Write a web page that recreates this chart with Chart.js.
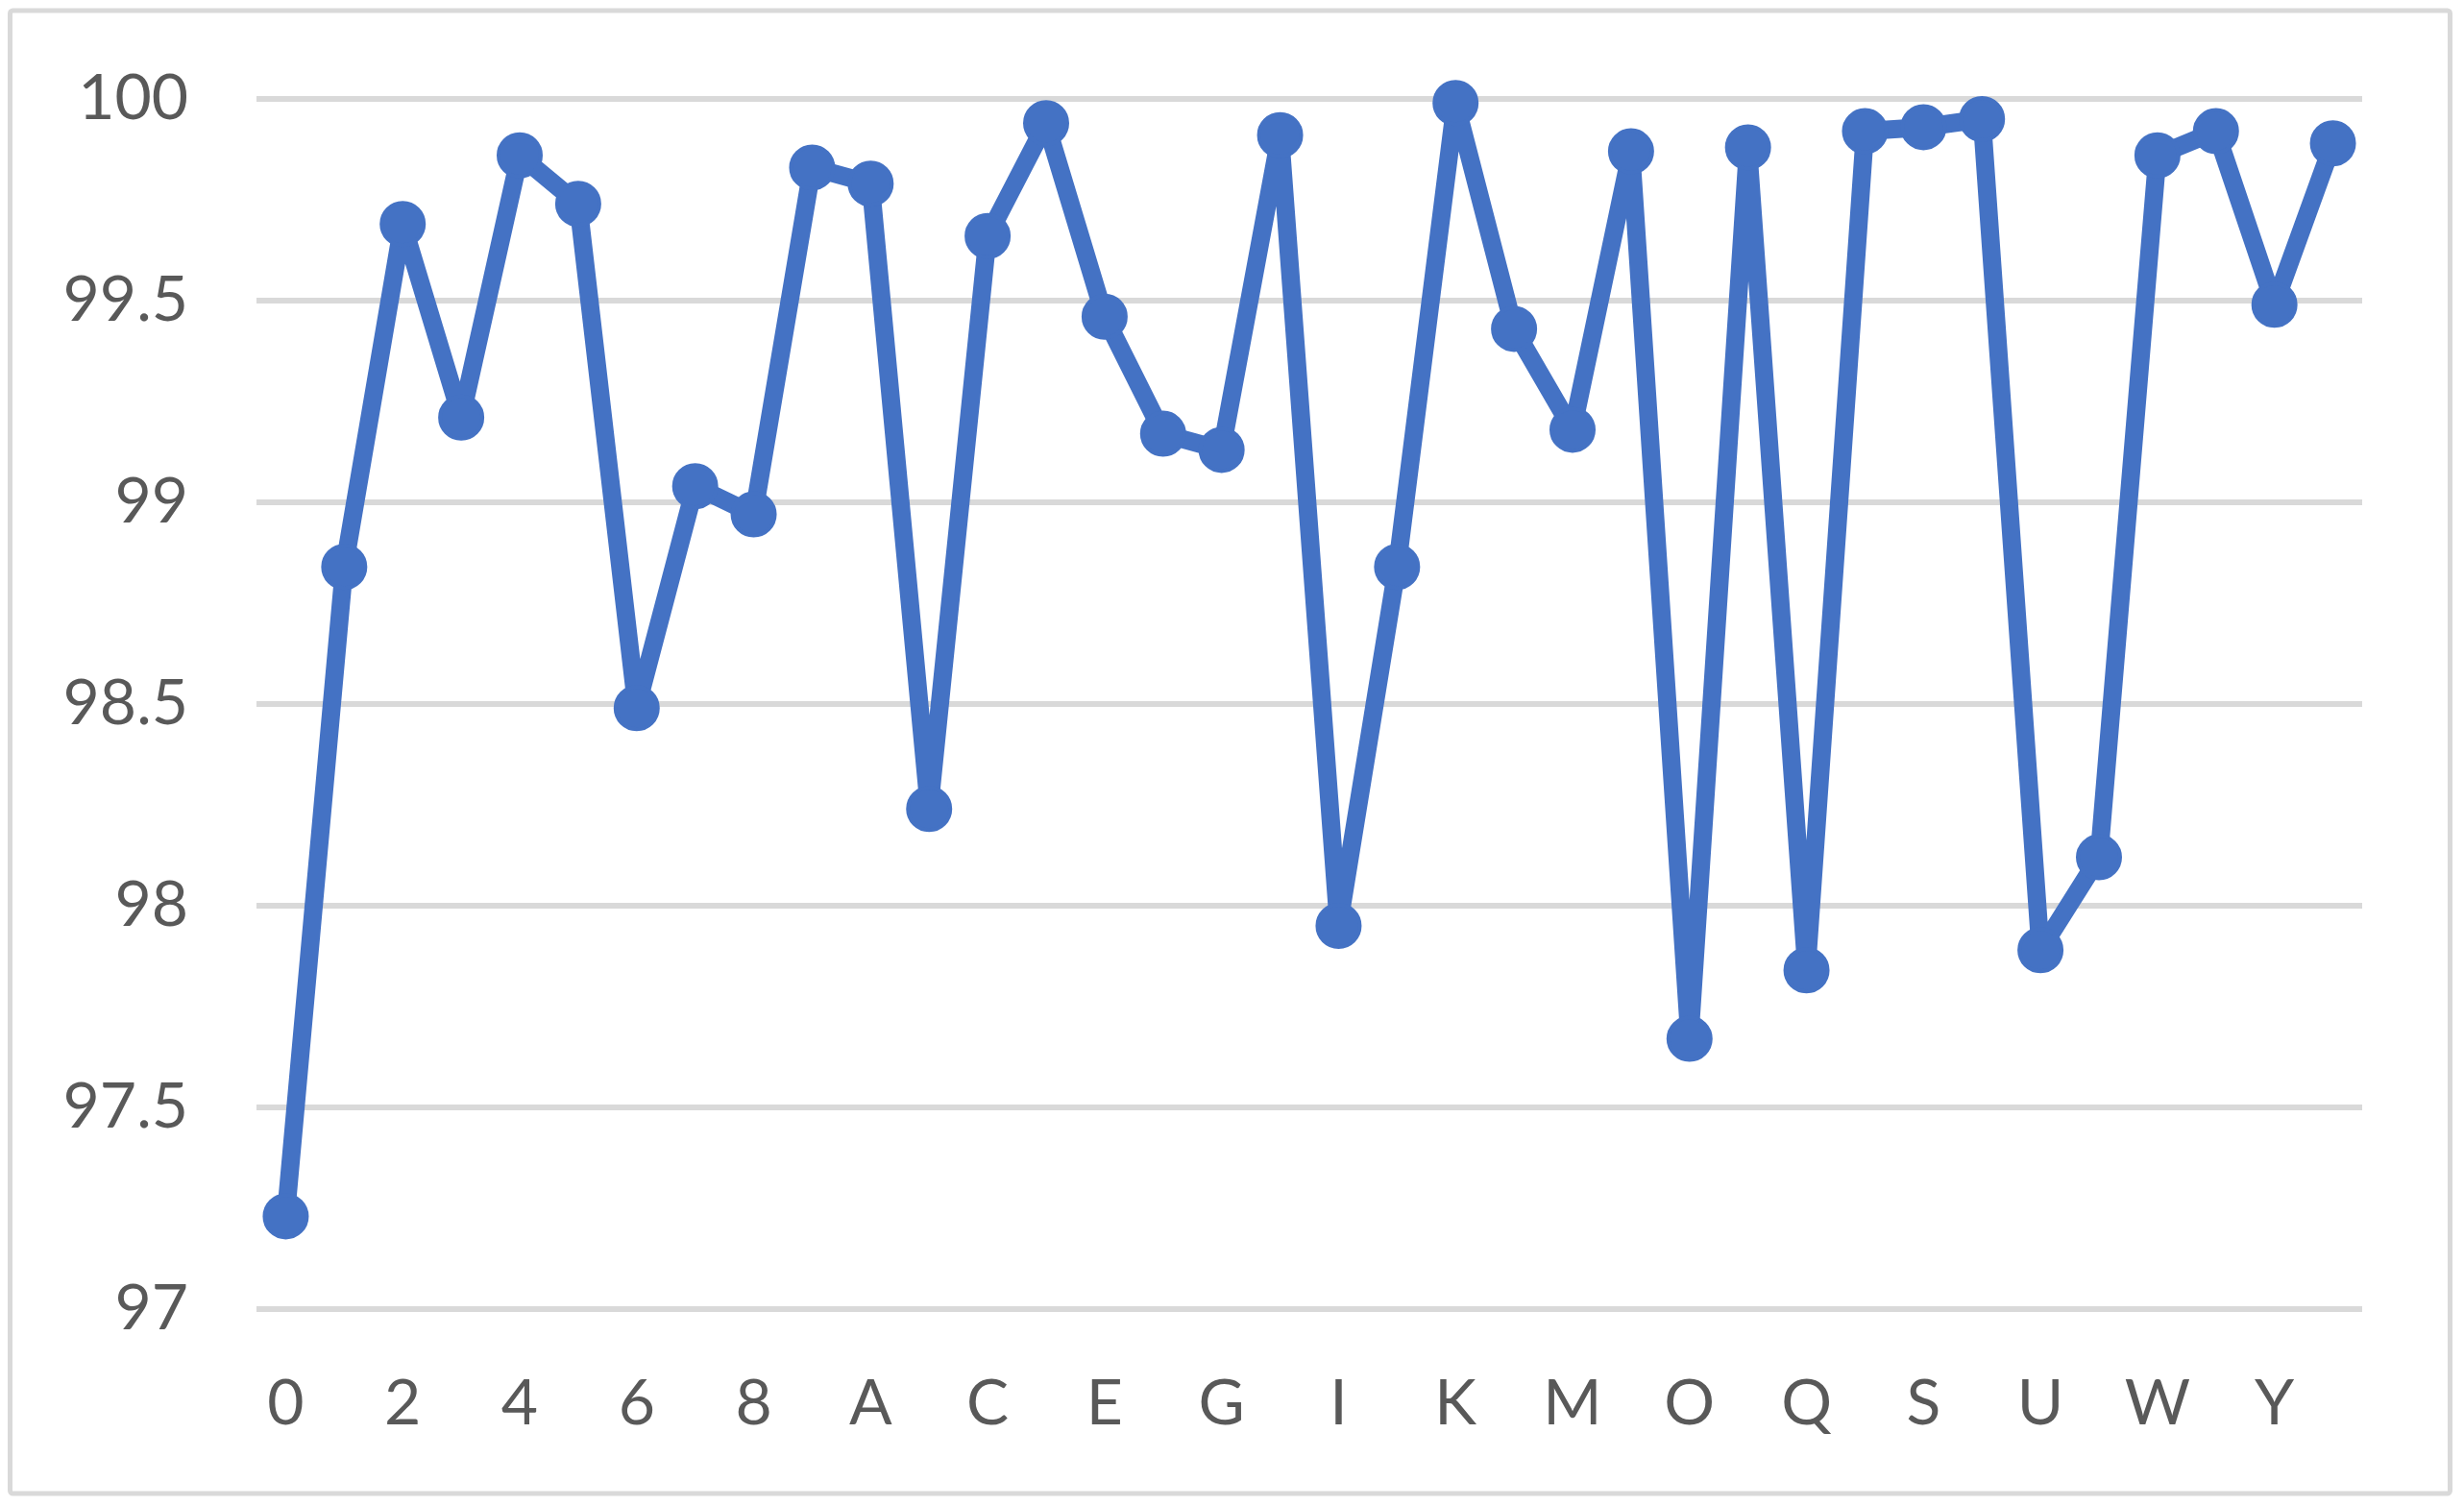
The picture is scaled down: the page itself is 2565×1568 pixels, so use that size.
<!DOCTYPE html>
<html>
<head>
<meta charset="utf-8">
<script src="https://cdn.jsdelivr.net/npm/chart.js@4/dist/chart.umd.min.js"></script>
<style>
  html, body { margin: 0; padding: 0; background: #ffffff; }
  #wrap { width: 2565px; height: 1568px; position: relative; }
</style>
</head>
<body>
<div id="wrap"><canvas id="c"></canvas></div>
<script>
const categories = ['0','1','2','3','4','5','6','7','8','9',
  'A','B','C','D','E','F','G','H','I','J','K','L','M','N','O','P','Q','R','S','T','U','V','W','X','Y','Z'];
const seriesValues = [97.23, 98.84, 99.69, 99.21, 99.86, 99.74, 98.49, 99.04, 98.97, 99.83,
  99.79, 98.24, 99.66, 99.94, 99.46, 99.17, 99.13, 99.91, 97.95, 98.84,
  99.99, 99.43, 99.18, 99.87, 97.67, 99.88, 97.84, 99.92, 99.93, 99.95,
  97.89, 98.12, 99.86, 99.92, 99.49, 99.89];
const yMin = 97, yMax = 100, yStep = 0.5;

const FONT = 'Lato, "Open Sans", sans-serif';
const TEXT = '#595959';
const GRID = '#d9d9d9';
const BLUE = '#4472C4';

const frame = {
  id: 'frame',
  beforeDraw(chart) {
    const ctx = chart.ctx;
    ctx.save();
    ctx.fillStyle = '#ffffff';
    ctx.fillRect(0, 0, chart.width, chart.height);
    ctx.strokeStyle = GRID;
    ctx.lineWidth = 5;
    ctx.beginPath();
    if (ctx.roundRect) ctx.roundRect(10.5, 11, 2540, 1544, 3); else ctx.rect(10.5, 11, 2540, 1544);
    ctx.stroke();
    ctx.restore();
  }
};

new Chart(document.getElementById('c'), {
  type: 'line',
  data: {
    labels: categories,
    datasets: [{
      data: seriesValues,
      borderColor: BLUE,
      backgroundColor: BLUE,
      borderWidth: 19,
      borderJoinStyle: 'round',
      borderCapStyle: 'round',
      pointRadius: 22,
      pointBorderWidth: 4,
      pointBackgroundColor: BLUE,
      pointBorderColor: BLUE,
      tension: 0,
      clip: false
    }]
  },
  options: {
    responsive: true,
    maintainAspectRatio: false,
    animation: false,
    devicePixelRatio: 1,
    layout: { padding: { top: 103, left: 0, right: 106, bottom: 0 } },
    plugins: { legend: { display: false }, tooltip: { enabled: false } },
    scales: {
      x: {
        type: 'category',
        offset: true,
        grid: { display: false, drawTicks: false },
        border: { display: false },
        ticks: {
          autoSkip: false,
          maxRotation: 0,
          minRotation: 0,
          padding: 59,
          color: TEXT,
          font: { family: FONT, size: 66 },
          callback: (v, i) => (i % 2 === 0 ? categories[i] : '')
        },
        afterFit: (s) => { s.height = 205; }
      },
      y: {
        min: yMin,
        max: yMax,
        grid: { color: GRID, lineWidth: 6, drawTicks: true, tickLength: 71, tickColor: 'rgba(0,0,0,0)', tickWidth: 0 },
        border: { display: false },
        ticks: {
          stepSize: yStep,
          padding: 0,
          color: TEXT,
          font: { family: FONT, size: 66 },
          callback: (v) => String(Math.round(v * 10) / 10)
        },
        afterFit: (s) => { s.width = 267; }
      }
    }
  },
  plugins: [frame]
});
</script>
</body>
</html>
